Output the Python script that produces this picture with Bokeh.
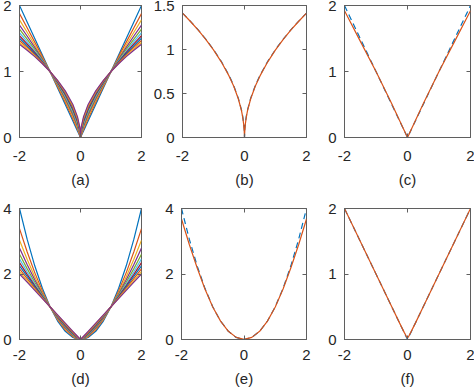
from bokeh.plotting import figure
from bokeh.layouts import row, column
from bokeh.models import Range1d, FixedTicker, LinearAxis
from bokeh.embed import file_html
from bokeh.resources import INLINE

FONT = "Liberation Sans"
AX = "#5f5f5f"
TXT = "#262626"
BLUE = "#0072BD"
ORANGE = "#D95319"
CYCLE = ["#0072BD", "#D95319", "#EDB120", "#7E2F8E", "#77AC30", "#4DBEEE", "#A2142F"]

# ---------------- data (values for x >= 0; curves are symmetric) ----------------
a_x = [0, 0.01, 0.03, 0.1, 0.25, 0.5, 0.75, 1, 1.25, 1.5, 1.75, 2]
a_curves = [
    [0, 0.010, 0.030, 0.100, 0.250, 0.500, 0.750, 1, 1.250, 1.500, 1.750, 2.000],
    [0, 0.015, 0.041, 0.123, 0.284, 0.533, 0.770, 1, 1.225, 1.445, 1.663, 1.878],
    [0, 0.022, 0.054, 0.147, 0.315, 0.561, 0.787, 1, 1.204, 1.402, 1.594, 1.782],
    [0, 0.029, 0.067, 0.170, 0.344, 0.587, 0.802, 1, 1.187, 1.365, 1.538, 1.704],
    [0, 0.037, 0.082, 0.193, 0.372, 0.610, 0.814, 1, 1.173, 1.336, 1.491, 1.641],
    [0, 0.046, 0.097, 0.215, 0.397, 0.630, 0.825, 1, 1.160, 1.310, 1.452, 1.587],
    [0, 0.056, 0.112, 0.237, 0.420, 0.648, 0.835, 1, 1.150, 1.288, 1.419, 1.542],
    [0, 0.067, 0.127, 0.258, 0.443, 0.665, 0.844, 1, 1.140, 1.269, 1.390, 1.503],
    [0, 0.077, 0.142, 0.278, 0.463, 0.680, 0.852, 1, 1.132, 1.252, 1.365, 1.470],
    [0, 0.089, 0.158, 0.298, 0.482, 0.694, 0.860, 1, 1.124, 1.237, 1.342, 1.440],
    [0, 0.100, 0.173, 0.316, 0.500, 0.707, 0.866, 1, 1.118, 1.225, 1.323, 1.414],
]

b_x = [0, 0.01, 0.03, 0.06, 0.1, 0.2, 0.35, 0.5, 0.75, 1, 1.25, 1.5, 1.75, 2]
b_ref = [0, 0.100, 0.173, 0.245, 0.316, 0.447, 0.592, 0.707, 0.866, 1.000, 1.118, 1.225, 1.323, 1.414]
b_fit = [0, 0.080, 0.160, 0.235, 0.310, 0.440, 0.585, 0.700, 0.860, 0.995, 1.115, 1.222, 1.321, 1.414]

c_x = [0, 0.5, 1, 1.5, 2]
c_ref = [0, 0.50, 1.00, 1.50, 2.00]
c_fit = [0, 0.51, 1.00, 1.46, 1.92]

d_x = [0, 0.1, 0.25, 0.5, 0.75, 1, 1.25, 1.5, 1.75, 2]
d_curves = [
    [0, 0.010, 0.063, 0.250, 0.563, 1, 1.563, 2.250, 3.063, 4.000],
    [0, 0.017, 0.087, 0.295, 0.603, 1, 1.481, 2.042, 2.678, 3.387],
    [0, 0.025, 0.109, 0.330, 0.631, 1, 1.429, 1.913, 2.448, 3.031],
    [0, 0.033, 0.129, 0.358, 0.653, 1, 1.391, 1.822, 2.289, 2.790],
    [0, 0.042, 0.148, 0.384, 0.672, 1, 1.361, 1.750, 2.165, 2.603],
    [0, 0.050, 0.165, 0.406, 0.688, 1, 1.337, 1.694, 2.070, 2.462],
    [0, 0.059, 0.182, 0.426, 0.702, 1, 1.316, 1.647, 1.990, 2.346],
    [0, 0.068, 0.198, 0.444, 0.714, 1, 1.298, 1.607, 1.925, 2.250],
    [0, 0.078, 0.215, 0.463, 0.727, 1, 1.281, 1.568, 1.861, 2.158],
    [0, 0.089, 0.233, 0.483, 0.739, 1, 1.264, 1.531, 1.800, 2.071],
    [0, 0.100, 0.250, 0.500, 0.750, 1, 1.250, 1.500, 1.750, 2.000],
]

e_x = [0, 0.25, 0.5, 0.75, 1, 1.25, 1.5, 1.75, 2]
e_ref = [0, 0.0625, 0.25, 0.5625, 1.00, 1.5625, 2.25, 3.0625, 4.00]
e_fit = [0.005, 0.065, 0.25, 0.560, 0.995, 1.540, 2.19, 2.900, 3.68]

f_x = [0, 0.05, 0.1, 0.25, 0.5, 1, 1.5, 2]
f_ref = [0, 0.05, 0.10, 0.25, 0.50, 1.00, 1.50, 2.00]
f_fit = [0.02, 0.06, 0.105, 0.25, 0.50, 1.00, 1.50, 2.00]

x_ticks = [-2, 0, 2]
panel_labels = ["(a)", "(b)", "(c)", "(d)", "(e)", "(f)"]
y_tops = [2, 1.5, 2, 4, 4, 2]
y_ticks = [[0, 1, 2], [0, 0.5, 1, 1.5], [0, 1, 2], [0, 2, 4], [0, 2, 4], [0, 1, 2]]
y_tick_labels = [["0", "1", "2"], ["0", "0.5", "1", "1.5"], ["0", "1", "2"],
                 ["0", "2", "4"], ["0", "2", "4"], ["0", "1", "2"]]


def mirror(xh, yh):
    xs = [-v for v in reversed(xh[1:])] + list(xh)
    ys = list(reversed(yh[1:])) + list(yh)
    return xs, ys


def make(i, width, height, left, right, top, bottom, xstand):
    p = figure(width=width, height=height, output_backend="svg", toolbar_location=None,
               x_range=Range1d(-2, 2), y_range=Range1d(0, y_tops[i]),
               min_border_left=left, min_border_right=right,
               min_border_top=top, min_border_bottom=bottom)
    p.xgrid.visible = False
    p.ygrid.visible = False
    p.outline_line_color = AX
    p.outline_line_width = 1
    p.background_fill_color = "white"
    p.border_fill_color = "white"

    xa = p.below[0]
    xa.ticker = FixedTicker(ticks=x_ticks)
    xa.major_label_overrides = {t: str(t) for t in x_ticks}
    xa.axis_label = panel_labels[i]
    xa.axis_label_standoff = 7
    xa.axis_label_text_font = FONT
    xa.axis_label_text_font_size = "15px"
    xa.axis_label_text_font_style = "normal"
    xa.axis_label_text_color = TXT
    xa.major_label_standoff = xstand

    ya = p.left[0]
    ya.ticker = FixedTicker(ticks=y_ticks[i])
    ya.major_label_overrides = dict(zip(y_ticks[i], y_tick_labels[i]))
    ya.major_label_standoff = 8

    for ax in (xa, ya):
        ax.major_tick_in = 4
        ax.major_tick_out = 0
        ax.minor_tick_in = 0
        ax.minor_tick_out = 0
        ax.axis_line_color = AX
        ax.major_tick_line_color = AX
        ax.major_label_text_font = FONT
        ax.major_label_text_font_size = "15px"
        ax.major_label_text_color = TXT

    for loc, ticks in (("above", x_ticks), ("right", y_ticks[i])):
        ax = LinearAxis(ticker=FixedTicker(ticks=ticks),
                        major_label_overrides={t: "" for t in ticks},
                        major_label_text_font_size="0px", major_label_standoff=0,
                        major_tick_in=4, major_tick_out=0,
                        minor_tick_in=0, minor_tick_out=0,
                        axis_line_color=None, major_tick_line_color=AX)
        p.add_layout(ax, loc)
    return p


def add_family(p, xh, curves):
    for k, yh in enumerate(curves):
        xs, ys = mirror(xh, yh)
        p.line(xs, ys, line_color=CYCLE[k % len(CYCLE)], line_width=1.2)


def add_pair(p, xh, yref, yfit):
    xs, ys = mirror(xh, yref)
    p.line(xs, ys, line_color=BLUE, line_width=1.2, line_dash="6 4")
    xs, ys = mirror(xh, yfit)
    p.line(xs, ys, line_color=ORANGE, line_width=1.2)


# row 1: heights 200 ; row 2: heights 191
pa = make(0, 150, 200, 17, 9, 5, 63, 13)
pb = make(1, 174, 200, 31, 18, 5, 63, 13)
pc = make(2, 150, 200, 20, 4, 5, 63, 13)
pd = make(3, 150, 191, 17, 9, 8, 52, 10)
pe = make(4, 174, 191, 31, 18, 8, 52, 10)
pf = make(5, 150, 191, 20, 4, 8, 52, 10)

add_family(pa, a_x, a_curves)
add_pair(pb, b_x, b_ref, b_fit)
add_pair(pc, c_x, c_ref, c_fit)
add_family(pd, d_x, d_curves)
add_pair(pe, e_x, e_ref, e_fit)
add_pair(pf, f_x, f_ref, f_fit)

layout = column(row(pa, pb, pc), row(pd, pe, pf))

with open("out.html", "w") as fh:
    fh.write(file_html(layout, INLINE))
